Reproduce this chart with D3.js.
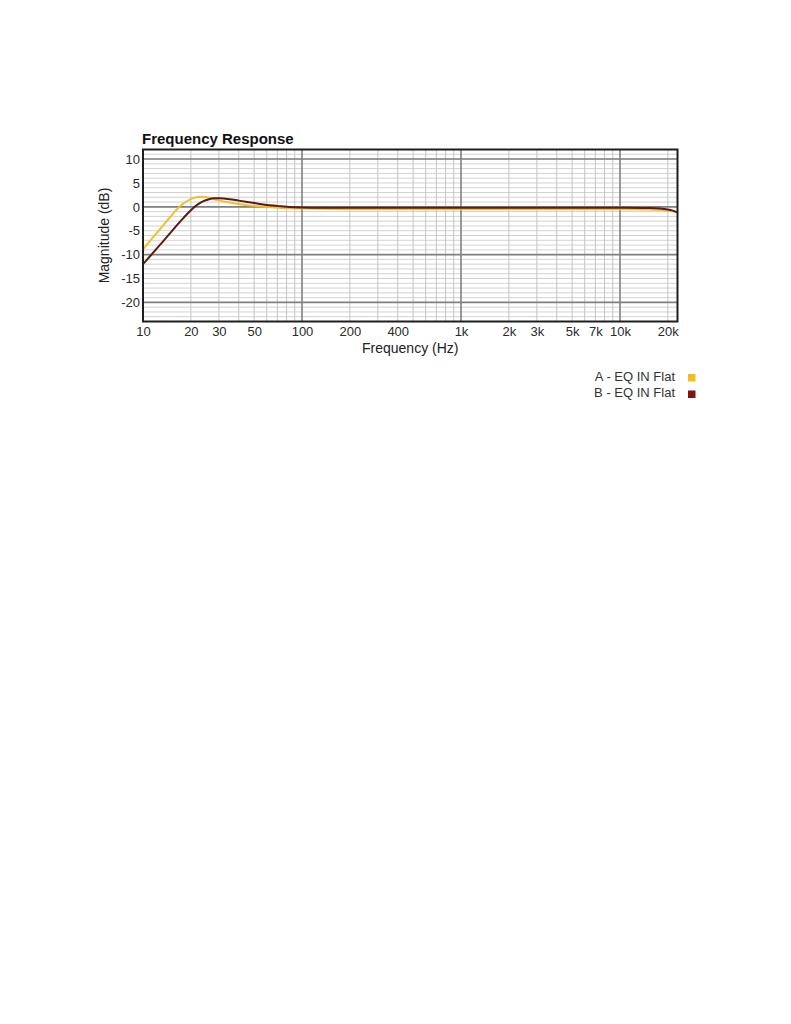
<!DOCTYPE html>
<html>
<head>
<meta charset="utf-8">
<script src="https://cdn.jsdelivr.net/npm/d3@7"></script>
<style>
    body { margin: 0; background: #fff; }
    text { font-family: "Liberation Sans", Arial, sans-serif; }
</style>
</head>
<body>
<div id="chart"></div>
<script>
// Frequency points (Hz)
var freqs = [10, 11, 12, 13, 14, 15, 16, 17, 18, 20, 22, 24, 26, 28, 30, 35, 40, 50, 60, 70, 80, 100,
             150, 200, 500, 1000, 2000, 5000, 10000, 15000, 18000, 20000, 21500, 23000];

// Magnitude (dB) of each trace at those frequencies
var seriesA = [-8.9, -7.25, -5.75, -4.4, -3.1, -1.95, -0.85, 0.05, 0.75, 1.6, 2.05, 2.1, 1.9, 1.6, 1.35, 0.9, 0.6, 0.2, 0.0, -0.2, -0.3, -0.35,
               -0.45, -0.5, -0.5, -0.5, -0.5, -0.5, -0.5, -0.55, -0.65, -0.8, -0.95, -1.2];
var seriesB = [-12.0, -10.45, -9.0, -7.7, -6.45, -5.3, -4.2, -3.2, -2.3, -0.7, 0.45, 1.2, 1.6, 1.8, 1.8, 1.6, 1.3, 0.8, 0.4, 0.2, 0.0, -0.15,
               -0.2, -0.2, -0.2, -0.2, -0.2, -0.2, -0.2, -0.25, -0.35, -0.55, -0.8, -1.15];

var seriesNames = ["A - EQ IN Flat", "B - EQ IN Flat"];
var seriesColors = ["#f2c02c", "#5e1912"];
var legendColors = ["#f3bd1e", "#7e1510"];

// Axis ticks
var xTicks = [10, 20, 30, 50, 100, 200, 400, 1000, 2000, 3000, 5000, 7000, 10000, 20000];
var xTickLabels = ["10", "20", "30", "50", "100", "200", "400", "1k", "2k", "3k", "5k", "7k", "10k", "20k"];
var yTicks = [10, 5, 0, -5, -10, -15, -20];

function init() {
    var w = 791;
    var h = 1024;

    // plot box
    var left = 143, right = 677.5, top = 149.5, bottom = 321.5;

    var xScale = d3.scaleLog()
                    .domain([10, 23000])
                    .range([left, right]);

    var yScale = d3.scaleLinear()
                    .domain([-24, 12])
                    .range([bottom, top]);

    var svg = d3.select("#chart")
                .append("svg")
                .attr("width", w)
                .attr("height", h);

    svg.append("rect")
        .attr("width", w)
        .attr("height", h)
        .attr("fill", "#fff");

    // minor vertical grid: 2..9 in each decade
    var minorX = [];
    [10, 100, 1000, 10000].forEach(function(dec) {
        for (var k = 2; k <= 9; k++) {
            if (dec * k < 23000) minorX.push(dec * k);
        }
    });
    var majorX = [100, 1000, 10000];

    // horizontal grid every 1 dB
    var minorY = d3.range(-23, 12);
    var majorY = [10, 0, -10, -20];

    var grid = svg.append("g");

    grid.selectAll(".hminor")
        .data(minorY)
        .enter()
        .append("line")
        .attr("x1", left).attr("x2", right)
        .attr("y1", function(d) { return yScale(d); })
        .attr("y2", function(d) { return yScale(d); })
        .attr("stroke", "#d2d2d2")
        .attr("stroke-width", 1);

    grid.selectAll(".vminor")
        .data(minorX)
        .enter()
        .append("line")
        .attr("y1", top).attr("y2", bottom)
        .attr("x1", function(d) { return xScale(d); })
        .attr("x2", function(d) { return xScale(d); })
        .attr("stroke", "#c4c4c4")
        .attr("stroke-width", 1);

    grid.selectAll(".hmajor")
        .data(majorY)
        .enter()
        .append("line")
        .attr("x1", left).attr("x2", right)
        .attr("y1", function(d) { return yScale(d); })
        .attr("y2", function(d) { return yScale(d); })
        .attr("stroke", "#808080")
        .attr("stroke-width", 1.6);

    grid.selectAll(".vmajor")
        .data(majorX)
        .enter()
        .append("line")
        .attr("y1", top).attr("y2", bottom)
        .attr("x1", function(d) { return xScale(d); })
        .attr("x2", function(d) { return xScale(d); })
        .attr("stroke", "#808080")
        .attr("stroke-width", 1.6);

    // traces, B drawn on top of A
    var line = d3.line()
                .x(function(d) { return xScale(d[0]); })
                .y(function(d) { return yScale(d[1]); })
                .curve(d3.curveCatmullRom.alpha(0.5));

    [seriesA, seriesB].forEach(function(vals, i) {
        svg.append("path")
            .datum(freqs.map(function(f, j) { return [f, vals[j]]; }))
            .attr("d", line)
            .attr("fill", "none")
            .attr("stroke", seriesColors[i])
            .attr("stroke-width", 2);
    });

    // frame
    svg.append("rect")
        .attr("x", left).attr("y", top)
        .attr("width", right - left)
        .attr("height", bottom - top)
        .attr("fill", "none")
        .attr("stroke", "#1e1e1e")
        .attr("stroke-width", 2);

    // axes (labels only), plain hyphen for negatives like the original
    var yAxis = d3.axisLeft(yScale)
                    .tickValues(yTicks)
                    .tickFormat(function(d) { return String(d); })
                    .tickSize(0)
                    .tickPadding(3);
    var gy = svg.append("g")
        .attr("transform", "translate(" + left + ",0)")
        .call(yAxis);
    gy.select(".domain").remove();
    gy.selectAll("text")
        .attr("font-family", "Liberation Sans, Arial, sans-serif")
        .attr("font-size", 13)
        .attr("fill", "#2a2a2a");

    var xAxis = d3.axisBottom(xScale)
                    .tickValues(xTicks)
                    .tickFormat(function(d, i) { return xTickLabels[i]; })
                    .tickSize(0)
                    .tickPadding(5);
    var gx = svg.append("g")
        .attr("transform", "translate(0," + bottom + ")")
        .call(xAxis);
    gx.select(".domain").remove();
    gx.selectAll("text")
        .attr("font-family", "Liberation Sans, Arial, sans-serif")
        .attr("font-size", 13)
        .attr("fill", "#2a2a2a");

    // titles
    svg.append("text")
        .attr("x", left - 1)
        .attr("y", 144)
        .attr("font-size", 15)
        .attr("font-weight", "bold")
        .attr("fill", "#111")
        .text("Frequency Response");

    svg.append("text")
        .attr("x", (left + right) / 2)
        .attr("y", 353)
        .attr("text-anchor", "middle")
        .attr("font-size", 14)
        .attr("fill", "#222")
        .text("Frequency (Hz)");

    svg.append("text")
        .attr("transform", "translate(109," + ((top + bottom) / 2) + ") rotate(-90)")
        .attr("text-anchor", "middle")
        .attr("font-size", 14)
        .attr("fill", "#222")
        .text("Magnitude (dB)");

    // legend
    var legend = svg.selectAll(".legend")
                    .data(seriesNames)
                    .enter()
                    .append("g")
                    .attr("transform", function(d, i) { return "translate(0," + (i * 16.5) + ")"; });

    legend.append("text")
        .attr("x", 675)
        .attr("y", 380.5)
        .attr("text-anchor", "end")
        .attr("font-size", 13)
        .attr("fill", "#333")
        .text(function(d) { return d; });

    legend.append("rect")
        .attr("x", 688)
        .attr("y", 374)
        .attr("width", 7.5)
        .attr("height", 7.5)
        .attr("fill", function(d, i) { return legendColors[i]; });
}

window.onload = init;
</script>
</body>
</html>
